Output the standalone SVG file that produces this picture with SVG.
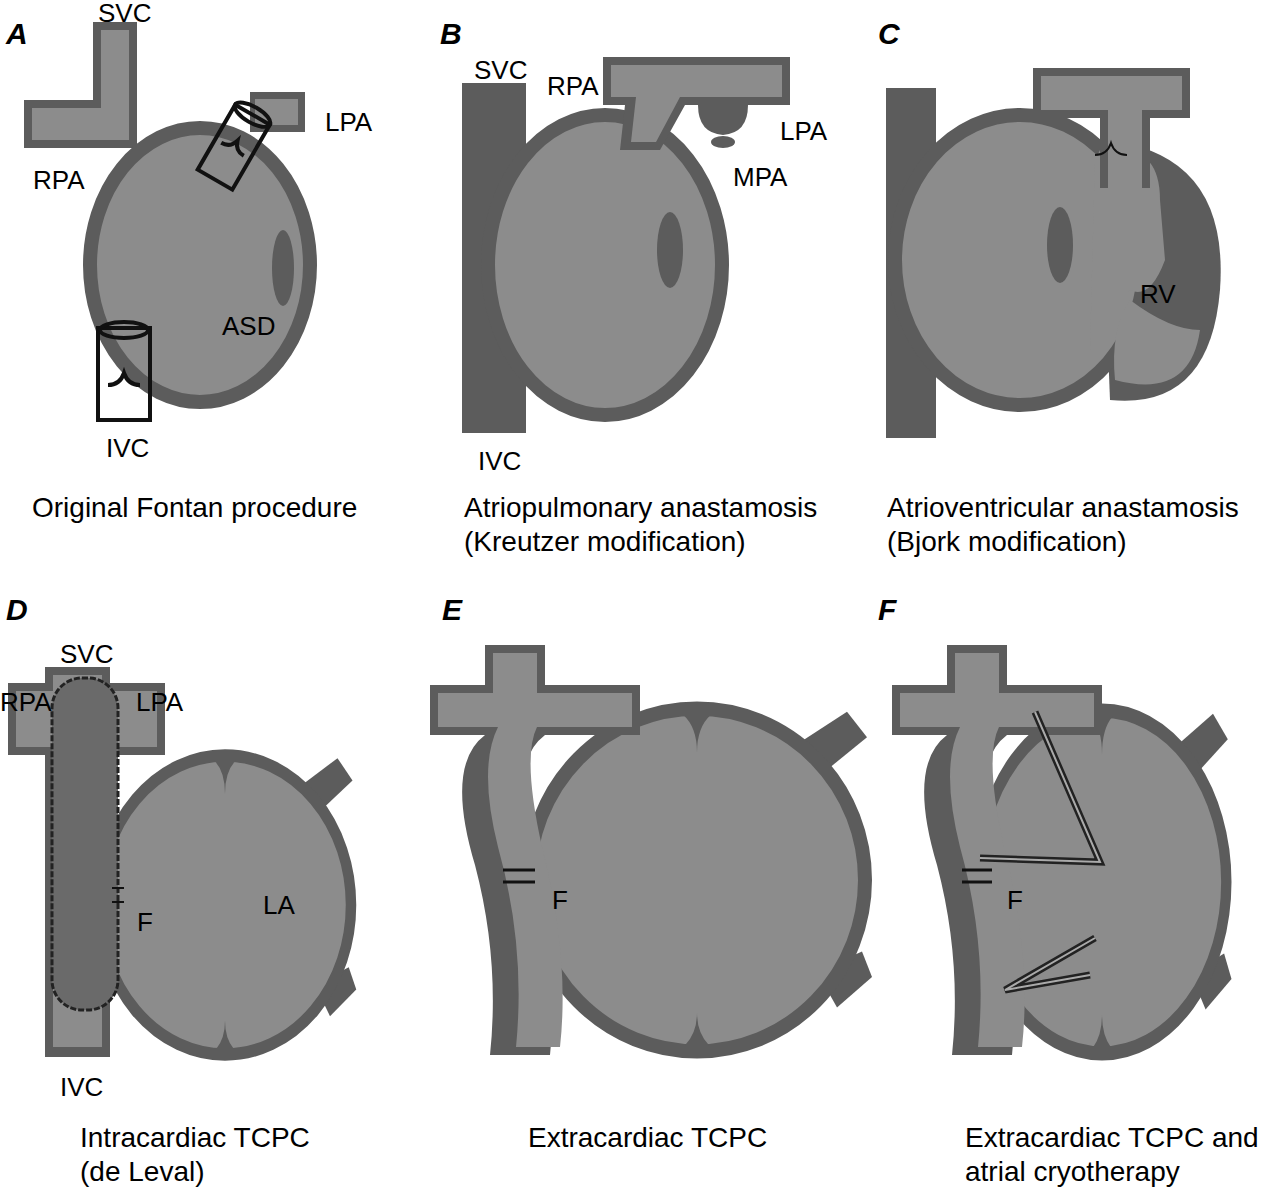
<svg xmlns="http://www.w3.org/2000/svg" width="1280" height="1188" viewBox="0 0 1280 1188">
<style>
.d{fill:#5c5c5c}.l{fill:#8c8c8c}.h{fill:#8c8c8c;stroke:#5c5c5c;stroke-width:14}
.k{fill:none;stroke:#111;stroke-width:4}
text{font-family:"Liberation Sans",Arial,sans-serif;font-size:26px;fill:#000}
.c{font-size:28px}.p{font-style:italic;font-weight:bold;font-size:30px}
</style>
<defs>
<g id="heart">
<path class="d" d="M95,-130 L150,-165 L170,-140 L120,-100 Z"/>
<path class="d" d="M120,90 L165,70 L175,95 L140,125 Z"/>
<ellipse class="h" cx="0" cy="0" rx="168" ry="168"/>
<path class="d" d="M-14,-162 Q0,-150 0,-125 Q0,-150 14,-162 Z"/>
<path class="d" d="M-12,162 Q0,150 0,130 Q0,150 12,162 Z"/>
</g>
</defs>
<rect width="1280" height="1188" fill="#fff"/>
<!-- A -->
<g id="A">
<text class="p" x="6" y="44">A</text>
<path class="d" d="M93,22h44v126h-113v-48h69z"/>
<path class="l" d="M101,30h28v110h-97v-32h69z"/>
<path class="d" d="M250,92h55v40h-55z"/><path class="l" d="M255,99h43v26h-43z"/>
<ellipse class="h" cx="200" cy="265" rx="110" ry="137"/>
<ellipse class="d" cx="283" cy="268" rx="11" ry="38"/>
<g transform="rotate(30 235 145)"><rect class="k" x="215" y="110" width="40" height="75" fill="#8c8c8c"/><ellipse class="k" cx="235" cy="110" rx="20" ry="8"/><path class="k" stroke-width="3" d="M222,150q10,0 13,-10q3,10 13,10"/></g>
<rect class="k" x="98" y="328" width="52" height="92" fill="#8c8c8c"/><ellipse class="k" cx="124" cy="330" rx="24" ry="8"/><path class="k" stroke-width="3" d="M108,385q12,0 16,-12q4,12 16,12"/>
<text x="98" y="22" font-size="24">SVC</text><text x="325" y="131">LPA</text><text x="33" y="189">RPA</text><text x="222" y="335">ASD</text><text x="106" y="457">IVC</text>
<text class="c" x="32" y="517">Original Fontan procedure</text>
</g>
<!-- B -->
<g id="B">
<text class="p" x="440" y="44">B</text>
<rect class="d" x="462" y="83" width="64" height="350"/>
<ellipse class="h" cx="605" cy="265" rx="117" ry="150"/>
<path class="d" d="M603,57h187v48h-105l-25,45h-40l5,-45h-22z"/>
<path class="l" d="M611,65h171v32h-102l-24,45h-25l5,-45h-25z"/>
<path class="d" d="M698,105h50q0,28 -25,30q-25,-2 -25,-30z"/><ellipse class="d" cx="723" cy="142" rx="12" ry="6"/>
<ellipse class="d" cx="670" cy="250" rx="13" ry="38"/>
<text x="474" y="79">SVC</text><text x="547" y="95">RPA</text><text x="780" y="140">LPA</text><text x="733" y="186">MPA</text><text x="478" y="470">IVC</text>
<text class="c" x="464" y="517">Atriopulmonary anastamosis</text><text class="c" x="464" y="551">(Kreutzer modification)</text>
</g>
<!-- C -->
<g id="C">
<text class="p" x="878" y="44">C</text>
<rect class="d" x="886" y="88" width="50" height="350"/>
<path class="d" d="M1100,140 Q1230,150 1220,290 Q1210,410 1110,400 Z"/>
<ellipse class="h" cx="1020" cy="260" rx="125" ry="145"/>
<path class="l" d="M1100,150 Q1160,140 1160,200 L1165,260 Q1150,300 1130,290 L1090,350 L1095,160Z"/>
<path class="l" d="M1115,380 Q1110,330 1130,300 Q1170,330 1200,330 Q1190,400 1115,380Z"/>
<path class="d" d="M1033,68h157v50h-40v70h-50v-70h-67z"/>
<path class="l" d="M1041,76h141v34h-40v80h-34v-80h-67z"/>
<path fill="none" stroke="#111" stroke-width="2" d="M1095,155q12,0 16,-12q4,12 16,12"/>
<ellipse class="d" cx="1060" cy="245" rx="13" ry="38"/>
<text x="1140" y="303">RV</text>
<text class="c" x="887" y="517">Atrioventricular anastamosis</text><text class="c" x="887" y="551">(Bjork modification)</text>
</g>
<!-- D -->
<g id="D">
<text class="p" x="6" y="620">D</text>
<g transform="translate(225,905) scale(0.75,0.89)"><use href="#heart"/></g>
<path class="d" d="M45,667h65v16h55v72h-55v302h-65v-302h-37v-72h37z"/>
<path class="l" d="M53,675h49v16h55v56h-55v300h-49v-300h-37v-56h37z"/>
<rect x="52" y="678" width="66" height="332" rx="30" fill="#6a6a6a" stroke="#222" stroke-width="3" stroke-dasharray="6 2"/>
<path stroke="#111" stroke-width="2" d="M112,888h12M112,902h12"/>
<text x="60" y="663">SVC</text><text x="0" y="711">RPA</text><text x="136" y="711">LPA</text><text x="263" y="914">LA</text><text x="137" y="931">F</text><text x="60" y="1096">IVC</text>
<text class="c" x="80" y="1147">Intracardiac TCPC</text><text class="c" x="80" y="1181">(de Leval)</text>
</g>
<!-- E -->
<g id="E">
<text class="p" x="442" y="620">E</text>
<g transform="translate(697,880) scale(1.0,1.02)"><use href="#heart"/></g>
<path class="d" d="M485,645h60v40h95v50h-95q-40,30 -10,130q25,95 15,190h-60q10,-95 -15,-190q-30,-100 10,-130h-55v-50h55z"/>
<path class="l" d="M493,653h44v40h95v34h-95q-15,30 5,120q28,110 18,200h-44q10,-100 -18,-200q-20,-80 0,-120h-60v-34h55z"/>
<path stroke="#111" stroke-width="3" d="M503,870h32M503,882h32"/>
<text x="552" y="909">F</text>
<text class="c" x="528" y="1147">Extracardiac TCPC</text>
</g>
<!-- F -->
<g id="F">
<text class="p" x="878" y="620">F</text>
<g transform="translate(1102,882) scale(0.74,1.02)"><use href="#heart"/></g>
<path class="d" d="M947,645h60v40h95v50h-95q-40,30 -10,130q25,95 15,190h-60q10,-95 -15,-190q-30,-100 10,-130h-55v-50h55z"/>
<path class="l" d="M955,653h44v40h95v34h-95q-15,30 5,120q28,110 18,200h-44q10,-100 -18,-200q-20,-80 0,-120h-60v-34h55z"/>
<path stroke="#111" stroke-width="3" d="M962,870h30M962,882h30"/>
<path fill="none" stroke="#222" stroke-width="7" d="M1035,712L1100,862L980,858"/>
<path fill="none" stroke="#aaa" stroke-width="2" d="M1035,712L1100,862L980,858"/>
<path fill="none" stroke="#222" stroke-width="7" d="M1095,938L1005,990L1090,975"/>
<path fill="none" stroke="#aaa" stroke-width="2" d="M1095,938L1005,990L1090,975"/>
<text x="1007" y="909">F</text>
<text class="c" x="965" y="1147">Extracardiac TCPC and</text><text class="c" x="965" y="1181">atrial cryotherapy</text>
</g>
</svg>
